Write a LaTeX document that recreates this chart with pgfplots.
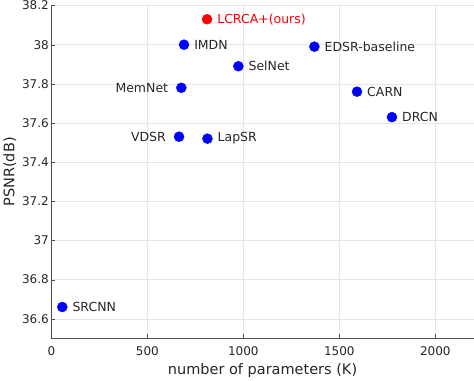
\documentclass[border=0pt]{standalone}
\usepackage{pgfplots}
\pgfplotsset{compat=1.18}
\usepackage{fontspec}
\setmainfont{DejaVu Sans}
\definecolor{txt}{HTML}{262626}
\definecolor{axc}{HTML}{4D4D4D}
\definecolor{grd}{HTML}{E5E5E5}
\pgfplotstableread{
x y label
691 38.00 IMDN
1370 37.99 EDSR-baseline
974 37.89 SelNet
1592 37.76 CARN
1774 37.63 DRCN
813 37.52 LapSR
57 36.66 SRCNN
}\rightpts
\pgfplotstableread{
x y label
677 37.78 MemNet
665 37.53 VDSR
}\leftpts
\pgfplotstableread{
x y label
811 38.13 LCRCA+(ours)
}\ours
\begin{document}
\begin{tikzpicture}
\begin{axis}[
  scale only axis, width=421bp, height=331.7bp,
  xmin=0, xmax=2200, ymin=36.5, ymax=38.2,
  axis lines=left, axis line style={-, color=axc},
  xtick={0,500,1000,1500,2000},
  ytick={36.6,36.8,37,37.2,37.4,37.6,37.8,38,38.2},
  tick align=inside, major tick length=4bp,
  tick style={color=axc},
  grid=major, grid style={color=grd, line width=0.5pt},
  /pgf/number format/assume math mode=true,
  /pgf/number format/1000 sep={},
  tick label style={font=\fontsize{12}{14}\selectfont, text=txt, inner ysep=1pt},
  yticklabel style={xshift=1bp},
  xticklabel style={yshift=-7bp},
  label style={font=\fontsize{14.5}{16}\selectfont, text=txt},
  xlabel={number of parameters (K)},
  ylabel={PSNR(dB)},
  xlabel style={yshift=-3bp},
  ylabel style={yshift=-1bp},
  clip=false,
]
\addplot[only marks, mark=*, mark size=5bp, color=blue,
  point meta=explicit symbolic, nodes near coords,
  nodes near coords style={anchor=west, inner sep=0pt, xshift=10bp, font=\fontsize{12.5}{14}\selectfont, text=txt}]
  table[x=x, y=y, meta=label] {\rightpts};
\addplot[only marks, mark=*, mark size=5bp, color=blue,
  point meta=explicit symbolic, nodes near coords,
  nodes near coords style={anchor=east, inner sep=0pt, xshift=-13bp, font=\fontsize{12.5}{14}\selectfont, text=txt}]
  table[x=x, y=y, meta=label] {\leftpts};
\addplot[only marks, mark=*, mark size=5bp, color=red,
  point meta=explicit symbolic, nodes near coords,
  nodes near coords style={anchor=west, inner sep=0pt, xshift=10bp, font=\fontsize{12.5}{14}\selectfont, text=red}]
  table[x=x, y=y, meta=label] {\ours};
\end{axis}
\end{tikzpicture}
\end{document}
